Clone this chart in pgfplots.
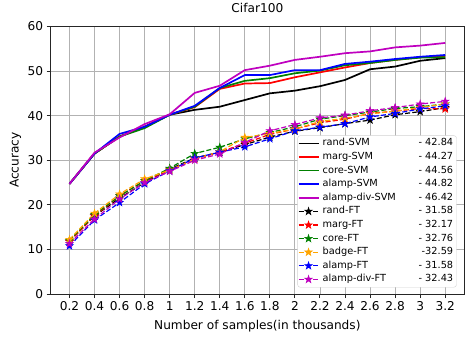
\documentclass[border=0pt]{standalone}
\usepackage{pgfplots}
\pgfplotsset{compat=1.18}
\usepackage{fontspec}
\setmainfont{DejaVu Sans}
\definecolor{mplm}{rgb}{0.75,0,0.75}
\definecolor{mplg}{rgb}{0,0.5,0}
\definecolor{mplo}{rgb}{1,0.647,0}
\pgfdeclareplotmark{fstar}{%
  \pgfpathmoveto{\pgfpointpolar{90}{\pgfplotmarksize}}%
  \pgfpathlineto{\pgfpointpolar{126}{0.382\pgfplotmarksize}}%
  \pgfpathlineto{\pgfpointpolar{162}{\pgfplotmarksize}}%
  \pgfpathlineto{\pgfpointpolar{198}{0.382\pgfplotmarksize}}%
  \pgfpathlineto{\pgfpointpolar{234}{\pgfplotmarksize}}%
  \pgfpathlineto{\pgfpointpolar{270}{0.382\pgfplotmarksize}}%
  \pgfpathlineto{\pgfpointpolar{306}{\pgfplotmarksize}}%
  \pgfpathlineto{\pgfpointpolar{342}{0.382\pgfplotmarksize}}%
  \pgfpathlineto{\pgfpointpolar{18}{\pgfplotmarksize}}%
  \pgfpathlineto{\pgfpointpolar{54}{0.382\pgfplotmarksize}}%
  \pgfpathclose\pgfusepathqfillstroke}
\newcommand{\lent}[2]{\makebox[130.5bp][l]{#1\hfill #2}}
\pgfplotsset{
  svm/.style={line width=1.7bp, no marks, solid},
  ft/.style={line width=1.2bp, dash pattern=on 5bp off 2.2bp, mark=fstar, mark size=4bp,
     mark options={solid, line width=0.5bp}},
}
\begin{document}
\begin{tikzpicture}
\begin{axis}[
  scale only axis, width=413.3bp, height=267.6bp,
  xmin=0.05, xmax=3.35, ymin=0, ymax=60,
  xtick={0.2,0.4,0.6,0.8,1,1.2,1.4,1.6,1.8,2,2.2,2.4,2.6,2.8,3,3.2},
  xticklabels={0.2,0.4,0.6,0.8,1,1.2,1.4,1.6,1.8,2,2.2,2.4,2.6,2.8,3,3.2},
  ytick={0,10,20,30,40,50,60},
  yticklabels={0,10,20,30,40,50,60},
  grid=major, major grid style={color=black!30, line width=0.9bp},
  axis line style={black!85, line width=1bp},
  tick align=outside, major tick length=4bp,
  tick style={black!85, line width=1bp},
  xtick pos=bottom, ytick pos=left,
  tick label style={font=\fontsize{12.2}{14}\selectfont},
  /pgf/number format/assume math mode=true,
  title={Cifar100},
  title style={font=\fontsize{12.2}{14}\selectfont, at={(axis description cs:0.5,1)}, anchor=base, yshift=7.9bp},
  xlabel={Number of samples(in thousands)},
  xlabel style={font=\fontsize{12.2}{14}\selectfont, at={(axis description cs:0.5,0)}, anchor=base, yshift=-35.7bp},
  ylabel={Accuracy},
  ylabel style={font=\fontsize{12.2}{14}\selectfont, at={(axis description cs:-0.0779,0.5)}, anchor=base, rotate=0},
  legend style={at={(0.9823,0.0247)}, anchor=south east,
     font=\fontsize{9.8}{11}\selectfont, draw=black!18, rounded corners=2.5bp,
     fill=white, inner xsep=0bp, inner ysep=1bp, row sep=0pt,
     nodes={inner xsep=3.3bp, inner ysep=2bp, text height=7.3bp, text depth=2.3bp},
     /tikz/every even column/.append style={column sep=1.1bp}},
  legend cell align=left,
  legend image code/.code={\draw[mark repeat=2,mark phase=2,#1] plot coordinates {(0bp,0bp) (10bp,0bp) (20bp,0bp)};},
]
\addplot[svm, black] table {
0.2 24.7
0.4 31.5
0.6 35.3
0.8 37.5
1.0 40.2
1.2 41.3
1.4 42.0
1.6 43.5
1.8 45.0
2.0 45.6
2.2 46.6
2.4 48.0
2.6 50.4
2.8 51.0
3.0 52.3
3.2 52.9
};
\addlegendentry{\lent{rand-SVM}{- 42.84}}
\addplot[svm, red] table {
0.2 24.7
0.4 31.5
0.6 35.3
0.8 37.5
1.0 40.2
1.2 41.9
1.4 46.0
1.6 47.2
1.8 47.3
2.0 48.6
2.2 49.7
2.4 50.8
2.6 51.8
2.8 52.5
3.0 53.1
3.2 53.3
};
\addlegendentry{\lent{marg-SVM}{- 44.27}}
\addplot[svm, mplg] table {
0.2 24.7
0.4 31.5
0.6 35.3
0.8 37.2
1.0 40.2
1.2 42.0
1.4 46.2
1.6 47.8
1.8 48.4
2.0 49.5
2.2 50.1
2.4 51.3
2.6 51.8
2.8 52.5
3.0 53.0
3.2 53.1
};
\addlegendentry{\lent{core-SVM}{- 44.56}}
\addplot[svm, blue] table {
0.2 24.7
0.4 31.5
0.6 35.9
0.8 37.5
1.0 40.2
1.2 42.2
1.4 46.2
1.6 49.1
1.8 49.1
2.0 50.2
2.2 50.2
2.4 51.6
2.6 52.1
2.8 52.7
3.0 53.2
3.2 53.6
};
\addlegendentry{\lent{alamp-SVM}{- 44.82}}
\addplot[svm, mplm] table {
0.2 24.7
0.4 31.7
0.6 35.1
0.8 38.1
1.0 40.3
1.2 45.1
1.4 46.7
1.6 50.2
1.8 51.2
2.0 52.5
2.2 53.2
2.4 54.0
2.6 54.4
2.8 55.3
3.0 55.7
3.2 56.3
};
\addlegendentry{\lent{alamp-div-SVM}{- 46.42}}
\addplot[ft, black] table {
0.2 11.8
0.4 17.5
0.6 21.5
0.8 25.0
1.0 28.0
1.2 30.5
1.4 31.8
1.6 33.5
1.8 35.2
2.0 36.5
2.2 37.3
2.4 38.2
2.6 39.0
2.8 40.2
3.0 40.9
3.2 41.8
};
\addlegendentry{\lent{rand-FT}{- 31.58}}
\addplot[ft, red] table {
0.2 11.8
0.4 17.5
0.6 22.0
0.8 25.4
1.0 27.8
1.2 30.3
1.4 31.8
1.6 33.8
1.8 35.8
2.0 37.0
2.2 38.4
2.4 39.2
2.6 40.5
2.8 41.0
3.0 41.6
3.2 41.5
};
\addlegendentry{\lent{marg-FT}{- 32.17}}
\addplot[ft, mplg] table {
0.2 12.0
0.4 17.8
0.6 22.0
0.8 25.4
1.0 28.2
1.2 31.5
1.4 32.9
1.6 34.8
1.8 36.2
2.0 37.5
2.2 39.2
2.4 40.0
2.6 40.8
2.8 41.6
3.0 42.0
3.2 42.6
};
\addlegendentry{\lent{core-FT}{- 32.76}}
\addplot[ft, mplo] table {
0.2 12.2
0.4 18.1
0.6 22.4
0.8 25.8
1.0 27.8
1.2 30.3
1.4 31.9
1.6 35.1
1.8 36.0
2.0 37.0
2.2 38.7
2.4 39.4
2.6 40.4
2.8 41.0
3.0 41.8
3.2 42.6
};
\addlegendentry{\lent{badge-FT}{-32.59}}
\addplot[ft, blue] table {
0.2 10.8
0.4 16.6
0.6 20.5
0.8 24.7
1.0 27.6
1.2 30.5
1.4 31.8
1.6 33.0
1.8 34.8
2.0 36.6
2.2 37.4
2.4 38.2
2.6 39.7
2.8 40.5
3.0 41.5
3.2 42.2
};
\addlegendentry{\lent{alamp-FT}{- 31.58}}
\addplot[ft, mplm] table {
0.2 11.3
0.4 16.8
0.6 21.3
0.8 25.0
1.0 27.5
1.2 30.0
1.4 31.4
1.6 34.0
1.8 36.6
2.0 38.0
2.2 39.5
2.4 40.1
2.6 41.1
2.8 41.8
3.0 42.6
3.2 43.2
};
\addlegendentry{\lent{alamp-div-FT}{- 32.43}}
\end{axis}
\path ([shift={(-50.7bp,-46.7bp)}]current axis.south west) rectangle ([shift={(10bp,25.7bp)}]current axis.north east);
\end{tikzpicture}
\end{document}
